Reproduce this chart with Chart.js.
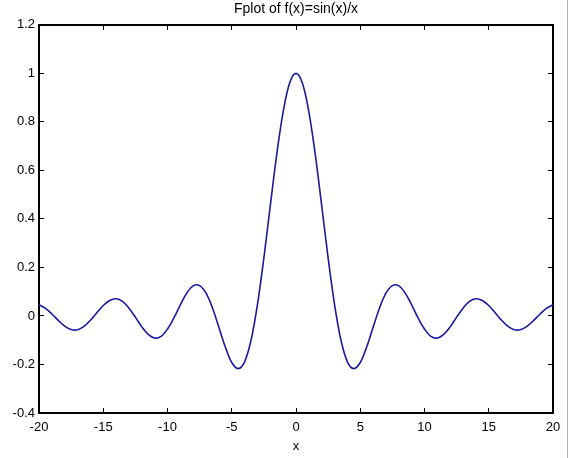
<!DOCTYPE html>
<html>
<head>
<meta charset="utf-8">
<script src="https://cdn.jsdelivr.net/npm/chart.js@4/dist/chart.umd.min.js"></script>
<style>
  html, body { margin: 0; padding: 0; background: #fff; }
  #wrap { width: 569px; height: 458px; position: relative; }
</style>
</head>
<body>
<div id="wrap"><canvas id="c" width="569" height="458"></canvas></div>
<script>
// Values
const xValues = [
  -20, -19.5, -19, -18.5, -18, -17.5, -17, -16.5, -16, -15.5,
  -15, -14.5, -14, -13.5, -13, -12.5, -12, -11.5, -11, -10.5,
  -10, -9.5, -9, -8.5, -8, -7.5, -7, -6.5, -6, -5.5,
  -5, -4.5, -4, -3.5, -3, -2.5, -2, -1.5, -1, -0.5,
  0, 0.5, 1, 1.5, 2, 2.5, 3, 3.5, 4, 4.5,
  5, 5.5, 6, 6.5, 7, 7.5, 8, 8.5, 9, 9.5,
  10, 10.5, 11, 11.5, 12, 12.5, 13, 13.5, 14, 14.5,
  15, 15.5, 16, 16.5, 17, 17.5, 18, 18.5, 19, 19.5, 20
];
const yValues = [
  0.046, 0.031, 0.008, -0.018, -0.042, -0.056, -0.057, -0.043, -0.018, 0.013,
  0.043, 0.064, 0.071, 0.060, 0.032, -0.005, -0.045, -0.076, -0.091, -0.084,
  -0.054, -0.008, 0.046, 0.094, 0.124, 0.125, 0.094, 0.033, -0.047, -0.128,
  -0.192, -0.217, -0.189, -0.100, 0.047, 0.239, 0.455, 0.665, 0.841, 0.959,
  1.000, 0.959, 0.841, 0.665, 0.455, 0.239, 0.047, -0.100, -0.189, -0.217,
  -0.192, -0.128, -0.047, 0.033, 0.094, 0.125, 0.124, 0.094, 0.046, -0.008,
  -0.054, -0.084, -0.091, -0.076, -0.045, -0.005, 0.032, 0.060, 0.071, 0.064,
  0.043, 0.013, -0.018, -0.043, -0.057, -0.056, -0.042, -0.018, 0.008, 0.031, 0.046
];
const xTicks = [-20, -15, -10, -5, 0, 5, 10, 15, 20];
const yTicks = [-0.4, -0.2, 0, 0.2, 0.4, 0.6, 0.8, 1, 1.2];
const chartTitle = 'Fplot of f(x)=sin(x)/x';
const xAxisTitle = 'x';

const points = xValues.map((x, i) => ({ x: x, y: yValues[i] }));
const FONT = 'Liberation Sans, Arial, Helvetica, sans-serif';

const frame = {
  id: 'frame',
  afterDraw(chart) {
    const ctx = chart.ctx;
    ctx.save();
    ctx.strokeStyle = '#b0b0b0';
    ctx.lineWidth = 1;
    ctx.beginPath();
    ctx.moveTo(567.5, 0);
    ctx.lineTo(567.5, 458);
    ctx.stroke();
    ctx.restore();
  }
};

const gridCommon = {
  drawOnChartArea: false,
  drawTicks: true,
  tickLength: -5,
  color: '#000',
  lineWidth: 1
};
const borderCommon = { display: true, color: '#000', width: 2 };

new Chart(document.getElementById('c'), {
  type: 'line',
  data: {
    datasets: [{
      data: points,
      borderColor: '#1a1aa0',
      borderWidth: 1.6,
      pointRadius: 0,
      tension: 0.35,
      fill: false
    }]
  },
  options: {
    responsive: false,
    animation: false,
    devicePixelRatio: 1,
    layout: { padding: { top: 0, right: 16, bottom: 0, left: 0 } },
    plugins: {
      legend: { display: false },
      tooltip: { enabled: false },
      title: {
        display: true,
        fullSize: false,
        text: chartTitle,
        color: '#000',
        font: { family: FONT, size: 14, weight: 'normal' },
        padding: { top: 1, bottom: 7 }
      }
    },
    scales: {
      x: {
        type: 'linear',
        position: 'bottom',
        min: -20, max: 20,
        afterBuildTicks(s) { s.ticks = xTicks.map(v => ({ value: v })); },
        afterFit(s) { s.height = 45; s.paddingLeft = 0; s.paddingRight = 0; },
        ticks: {
          color: '#000',
          font: { family: FONT, size: 13 },
          padding: 12,
          maxRotation: 0,
          autoSkip: false,
          callback: v => String(v)
        },
        grid: gridCommon,
        border: borderCommon,
        title: {
          display: true,
          text: xAxisTitle,
          color: '#000',
          font: { family: FONT, size: 13 },
          padding: { top: 0, bottom: 4 }
        }
      },
      x2: {
        type: 'linear',
        position: 'top',
        min: -20, max: 20,
        afterBuildTicks(s) { s.ticks = xTicks.map(v => ({ value: v })); },
        afterFit(s) { s.height = 0; s.paddingLeft = 0; s.paddingRight = 0; },
        ticks: { display: false },
        grid: gridCommon,
        border: borderCommon
      },
      y: {
        type: 'linear',
        position: 'left',
        min: -0.4, max: 1.2,
        afterBuildTicks(s) { s.ticks = yTicks.map(v => ({ value: v })); },
        afterFit(s) { s.width = 39; },
        ticks: {
          color: '#000',
          font: { family: FONT, size: 13 },
          padding: 9,
          autoSkip: false,
          callback: v => String(Number(v.toFixed(1)))
        },
        grid: gridCommon,
        border: borderCommon
      },
      y2: {
        type: 'linear',
        position: 'right',
        min: -0.4, max: 1.2,
        afterBuildTicks(s) { s.ticks = yTicks.map(v => ({ value: v })); },
        afterFit(s) { s.width = 0; },
        ticks: { display: false },
        grid: gridCommon,
        border: borderCommon
      }
    }
  },
  plugins: [frame]
});
</script>
</body>
</html>
